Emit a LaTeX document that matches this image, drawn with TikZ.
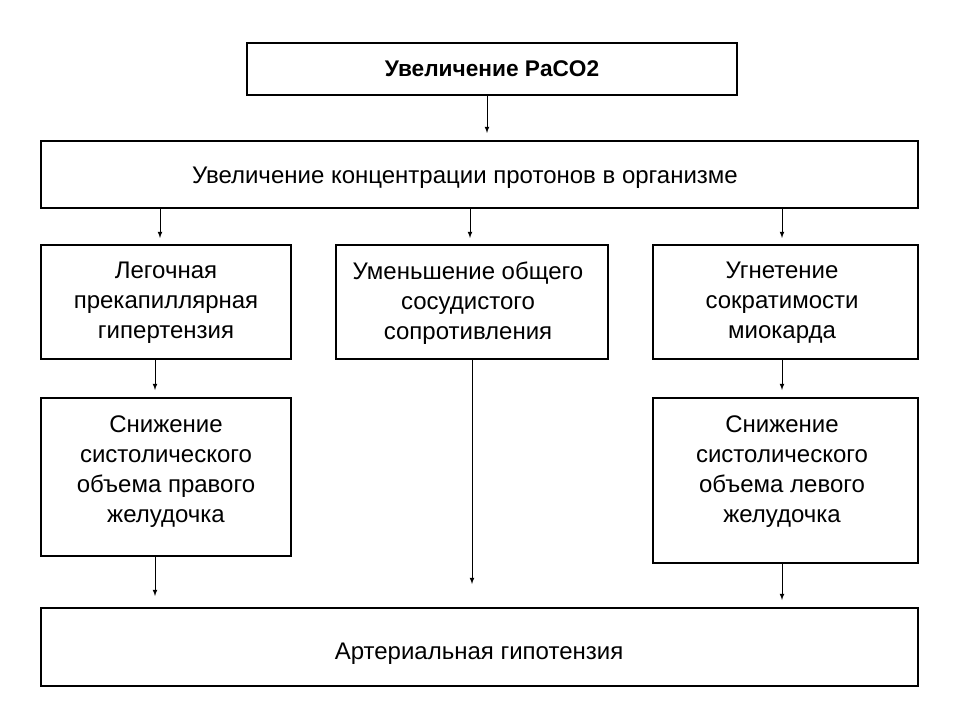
\documentclass[tikz,border=0pt]{standalone}
\usepackage{fontspec}
\setmainfont{Liberation Sans}
\begin{document}
\begin{tikzpicture}[x=0.75pt,y=-0.75pt,
  bx/.style={draw,line width=0.8pt,inner sep=0pt},
  tx/.style={align=center,font=\fontsize{18}{22.5}\selectfont,inner sep=0pt,anchor=north},
  ar/.style={-latex,line width=0.6pt}]
\useasboundingbox[fill=white] (0,0) rectangle (960,720);
\node[bx,minimum width=490*0.75pt,minimum height=52*0.75pt,font=\fontsize{17}{21}\selectfont\bfseries] (a) at (492,69) {Увеличение PaCO2};
\node[bx,minimum width=877*0.75pt,minimum height=67*0.75pt] (b) at (479.5,174.5) {};
\node[tx] (bt) at (465,167) {Увеличение концентрации протонов в организме};
\node[bx,minimum width=250*0.75pt,minimum height=114*0.75pt] (c1) at (166,302) {};
\node[tx] (c1t) at (166,262) {Легочная\\прекапиллярная\\гипертензия};
\node[bx,minimum width=272*0.75pt,minimum height=114*0.75pt] (c2) at (472,302) {};
\node[tx] (c2t) at (468,262) {Уменьшение общего\\сосудистого\\сопротивления};
\node[bx,minimum width=265*0.75pt,minimum height=114*0.75pt] (c3) at (785.5,302) {};
\node[tx] (c3t) at (782,262) {Угнетение\\сократимости\\миокарда};
\node[bx,minimum width=250*0.75pt,minimum height=158*0.75pt] (d1) at (166,477) {};
\node[tx] (d1t) at (166,415) {Снижение\\систолического\\объема правого\\желудочка};
\node[bx,minimum width=265*0.75pt,minimum height=165*0.75pt] (d3) at (785.5,480.5) {};
\node[tx] (d3t) at (782,415) {Снижение\\систолического\\объема левого\\желудочка};
\node[bx,minimum width=877*0.75pt,minimum height=78*0.75pt] (e) at (479.5,647) {};
\node[tx] (et) at (479,643) {Артериальная гипотензия};
\draw[ar] (a.south -| 487,0) ++(0,0) -- (487,133);
\draw[ar] (160,208) -- (160,238);
\draw[ar] (470,208) -- (470,238);
\draw[ar] (782,208) -- (782,238);
\draw[ar] (155,359) -- (155,390);
\draw[ar] (782,359) -- (782,390);
\draw[ar] (155,556) -- (155,596);
\draw[ar] (472,359) -- (472,584);
\draw[ar] (782,563) -- (782,600);
\end{tikzpicture}
\end{document}
